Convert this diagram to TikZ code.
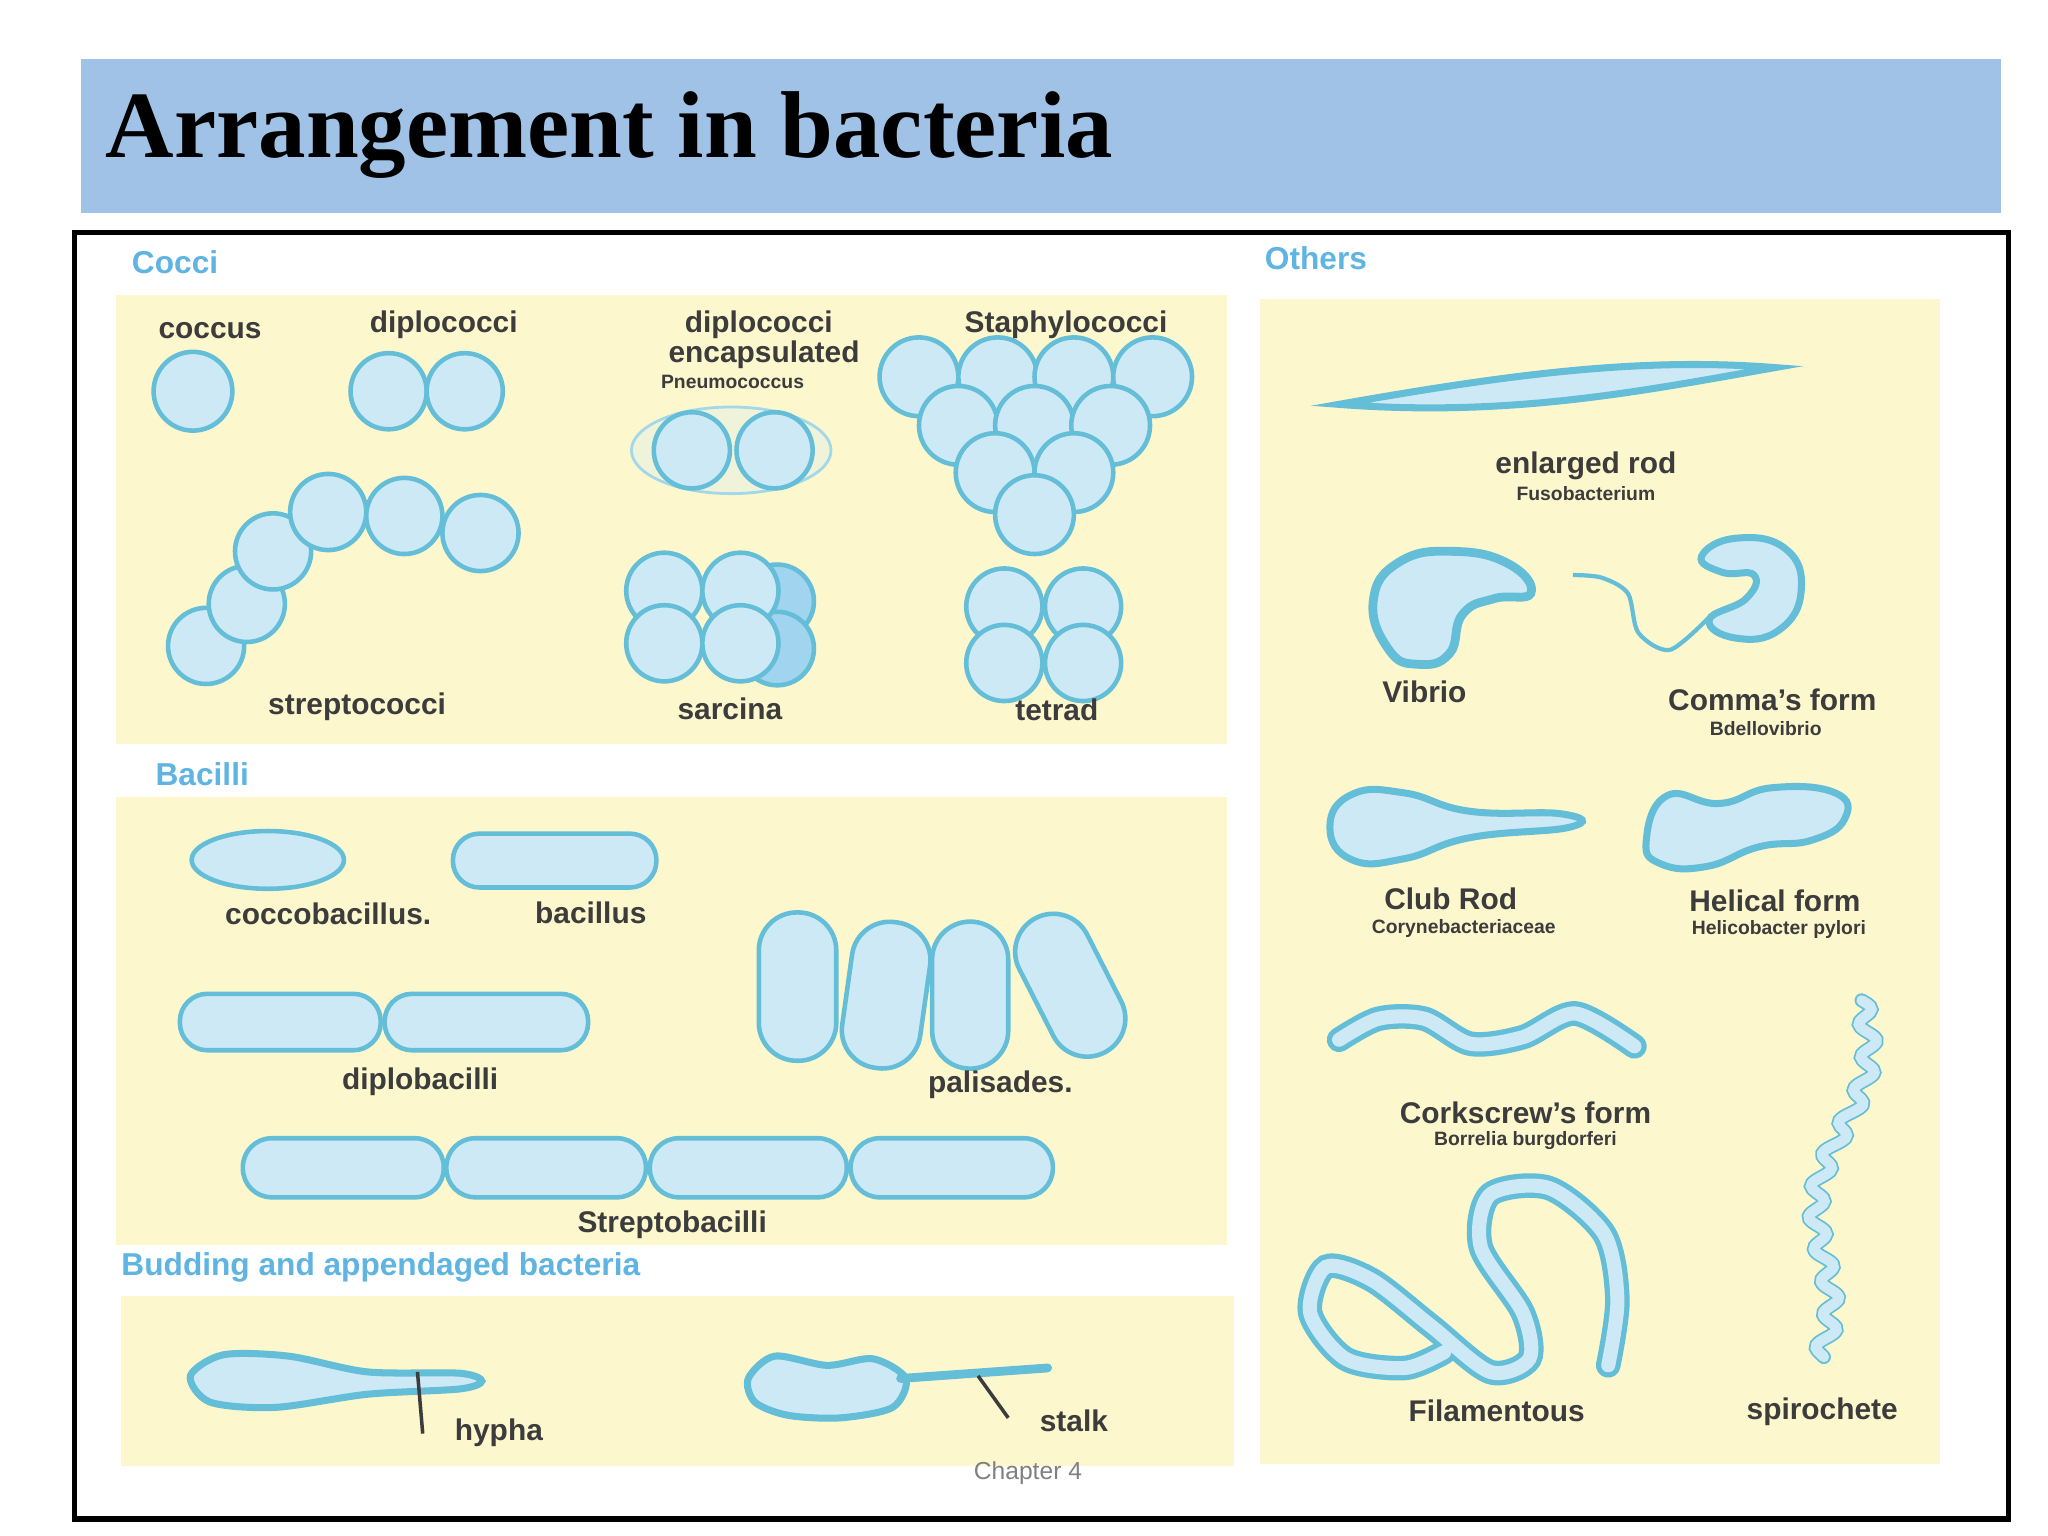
\documentclass[tikz,border=0pt]{standalone}
\usepackage{fontspec}
\setmainfont{Liberation Sans}
\newfontfamily\titlefont{Liberation Serif}
\definecolor{band}{RGB}{160,194,230}
\definecolor{pale}{RGB}{253,247,206}
\definecolor{cellf}{RGB}{205,233,246}
\definecolor{celld}{RGB}{100,190,215}
\definecolor{secb}{RGB}{95,180,225}
\definecolor{lab}{RGB}{60,60,60}
\begin{document}
\begin{tikzpicture}[x=0.013128cm,y=-0.013128cm,
  cell/.style={fill=cellf,draw=celld,line width=1.3pt},
  panel/.style={fill=pale,draw=none},
  lbl/.style={text=lab,font=\fontsize{8.5}{10}\selectfont\bfseries,inner sep=0pt},
  sub/.style={text=lab,font=\fontsize{5.5}{7}\selectfont\bfseries,inner sep=0pt},
  sec/.style={text=secb,font=\fontsize{9}{10}\selectfont\bfseries,anchor=west,inner sep=0pt},
  wire/.style={draw=celld,line width=5pt,line cap=round,postaction={draw=cellf,line width=3pt,line cap=round}}]
\useasboundingbox (0,0) rectangle (1560,1170);
\fill[white] (0,0) rectangle (1560,1170);
\fill[band] (62,45) rectangle (1524,162);
\node[anchor=west,inner sep=0pt,font=\titlefont\fontsize{27}{30}\selectfont\bfseries] (title) at (80,103) {Arrangement in bacteria};
\draw[line width=1.5pt] (57,177) rectangle (1530,1157);
\fill[panel] (88,225) rectangle (935,567);
\fill[panel] (88,607) rectangle (935,948);
\fill[panel] (92,987) rectangle (940,1117);
\fill[panel] (960,228) rectangle (1478,1115);
\node[sec] (s1) at (100,200) {Cocci};
\node[sec] (s2) at (118,590) {Bacilli};
\node[sec] (s3) at (92,965) {Budding and appendaged bacteria};
\node[sec] (s4) at (963,197) {Others};
% cocci
\draw[cell] (147,298) circle (30);
\draw[cell] (296,298) circle (29); \draw[cell] (354,298) circle (29);
\draw[draw=celld!60,fill=pale!70!cellf,line width=0.8pt] (557,343) ellipse (76 and 33);
\draw[cell] (527,343) circle (29); \draw[cell] (590,343) circle (29);
\foreach \x/\y in {700/287,760/287,818/287,878/287,730/324,788/324,846/324,758/360,818/360,788/392}
  \draw[cell] (\x,\y) circle (30);
\foreach \x/\y in {157/492,188/460,208/420,250/390,308/393,366/406}
  \draw[cell] (\x,\y) circle (29);
\draw[cell,fill=cellf!60!secb] (592,458) circle (28); \draw[cell,fill=cellf!60!secb] (592,494) circle (28);
\foreach \x/\y in {506/450,564/450,506/490,564/490} \draw[cell] (\x,\y) circle (29);
\foreach \x/\y in {765/462,825/462,765/505,825/505} \draw[cell] (\x,\y) circle (29);
\node[lbl] (l1) at (160,252) {coccus};
\node[lbl] (l2) at (338,247) {diplococci};
\node[lbl] (l3) at (578,247) {diplococci};
\node[lbl] (l3b) at (582,270) {encapsulated};
\node[sub] (l3c) at (558,291) {Pneumococcus};
\node[lbl] (l4) at (812,247) {Staphylococci};
\node[lbl] (l5) at (272,538) {streptococci};
\node[lbl] (l6) at (556,540) {sarcina};
\node[lbl] (l7) at (805,541) {tetrad};
% bacilli
\draw[cell] (204,655) ellipse (58 and 22);
\draw[cell,rounded corners=7.5pt] (345,635) rectangle (500,676);
\draw[cell,rounded corners=7.8pt] (137,757) rectangle (290,800);
\draw[cell,rounded corners=7.8pt] (293,757) rectangle (448,800);
\foreach \a/\b in {185/338,340/492,495/645,648/802} \draw[cell,rounded corners=8.2pt] (\a,867) rectangle (\b,912);
\draw[cell,rounded corners=10.8pt] (578,695) rectangle (637,808);
\draw[cell,rounded corners=10.8pt,rotate around={-8:(675,758)}] (645,702) rectangle (705,814);
\draw[cell,rounded corners=10.8pt] (710,702) rectangle (768,814);
\draw[cell,rounded corners=10.8pt,rotate around={27:(815,750)}] (786,693) rectangle (844,808);
\node[lbl] (b1) at (250,696) {coccobacillus.};
\node[lbl] (b2) at (450,695) {bacillus};
\node[lbl] (b3) at (320,824) {diplobacilli};
\node[lbl] (b4) at (762,826) {palisades.};
\node[lbl] (b5) at (512,933) {Streptobacilli};
% budding
\draw[cell,line width=2pt] plot[smooth cycle] coordinates {(145,1048)(170,1032)(220,1033)(280,1045)(350,1046)(367,1052)(350,1058)(280,1062)(210,1072)(160,1068)};
\draw[lab,line width=1pt] (318,1045) -- (322,1092);
\draw[cell,line width=2pt] plot[smooth cycle] coordinates {(570,1050)(590,1033)(630,1040)(665,1035)(690,1050)(680,1072)(640,1080)(600,1078)(575,1068)};
\draw[celld,line width=2.5pt,line cap=round] (686,1050) -- (798,1042);
\draw[lab,line width=1pt] (745,1048) -- (768,1080);
\node[lbl] (u1) at (380,1091) {hypha};
\node[lbl] (u2) at (818,1082) {stalk};
% others
\draw[cell,line width=2pt] (1020,308) .. controls (1150,285) and (1250,272) .. (1352,280) .. controls (1250,298) and (1150,318) .. cycle;
\draw[cell,line width=2.5pt] plot[smooth cycle,tension=0.8] coordinates {(1058,495)(1046,458)(1066,428)(1108,420)(1150,430)(1166,452)(1138,456)(1114,468)(1104,498)(1080,506)};
\draw[cell,line width=2pt] plot[smooth cycle,tension=0.8] coordinates {(1296,424)(1322,410)(1360,418)(1372,450)(1355,480)(1322,486)(1302,472)(1330,456)(1336,438)(1312,436)};
\draw[celld,line width=1.2pt] plot[smooth] coordinates {(1302,470)(1272,495)(1248,482)(1240,452)(1220,440)(1198,438)};
\draw[cell,line width=2pt] plot[smooth cycle,tension=0.8] coordinates {(1013,630)(1030,605)(1070,604)(1120,618)(1190,620)(1196,630)(1120,638)(1070,654)(1030,655)};
\draw[cell,line width=2pt] plot[smooth cycle,tension=0.8] coordinates {(1254,640)(1270,606)(1310,612)(1350,600)(1398,604)(1405,624)(1380,640)(1340,645)(1300,660)(1265,658)};
\draw[wire,line width=7pt,postaction={draw=cellf,line width=4pt}] plot[smooth] coordinates {(1020,792)(1050,776)(1085,776)(1120,795)(1160,790)(1200,772)(1245,797)};
\draw[wire,line width=4pt,postaction={draw=cellf,line width=2.2pt}] plot[domain=0:1,samples=120,smooth] ({1418-40*\x+6*sin(\x*4000)+12*sin(\x*500)},{762+272*\x});
\draw[wire,line width=7pt,postaction={draw=cellf,line width=4pt}] plot[smooth] coordinates {(1225,1040)(1232,990)(1222,940)(1180,905)(1135,910)(1128,950)(1160,1000)(1165,1035)(1135,1045)(1090,1010)(1045,975)(1010,965)(998,1000)(1025,1035)(1070,1042)(1100,1030)};
\node[lbl] (o1) at (1208,355) {enlarged rod};
\node[sub] (o1b) at (1208,376) {Fusobacterium};
\node[lbl] (o2) at (1085,527) {Vibrio};
\node[lbl] (o3) at (1350,533) {Comma's form};
\node[sub] (o3b) at (1345,555) {Bdellovibrio};
\node[lbl] (o4) at (1105,685) {Club Rod};
\node[sub] (o4b) at (1115,707) {Corynebacteriaceae};
\node[lbl] (o5) at (1352,686) {Helical form};
\node[sub] (o5b) at (1355,708) {Helicobacter pylori};
\node[lbl] (o6) at (1162,848) {Corkscrew's form};
\node[sub] (o6b) at (1162,869) {Borrelia burgdorferi};
\node[lbl] (o7) at (1140,1075) {Filamentous};
\node[lbl] (o8) at (1388,1075) {spirochete};
\node[text=gray,font=\fontsize{7}{8}\selectfont] (foot) at (783,1122) {Chapter 4};
\end{tikzpicture}
\end{document}
